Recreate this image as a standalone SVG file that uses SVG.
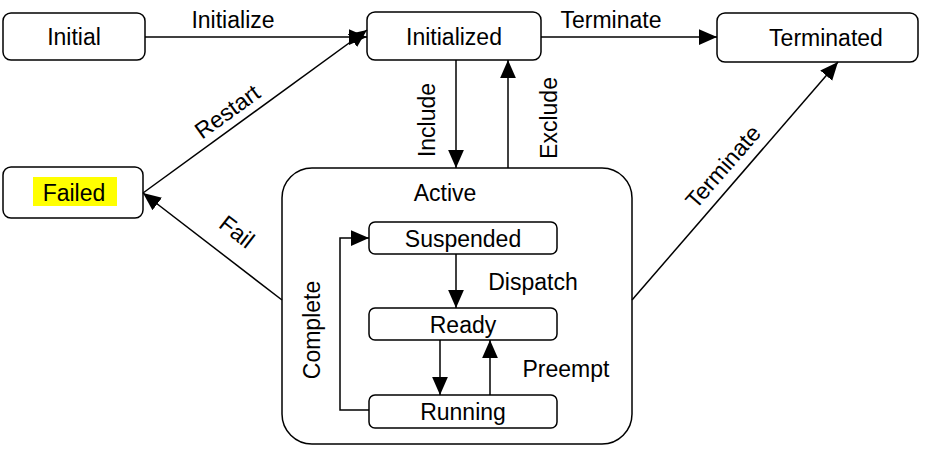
<svg xmlns="http://www.w3.org/2000/svg" width="933" height="452" viewBox="0 0 933 452">
<style>
.n{fill:#fff;stroke:#000;stroke-width:1.5}
text{font-family:"Liberation Sans",Arial,sans-serif;font-size:23px;fill:#000}
.c{text-anchor:middle}
.e{fill:none;stroke:#000;stroke-width:1.5}
</style>
<defs>
<marker id="a" viewBox="0 0 16 14" refX="16" refY="7" markerWidth="18" markerHeight="16" markerUnits="userSpaceOnUse" orient="auto">
<path d="M0,0L16,7L0,14z" fill="#000"/>
</marker>
</defs>
<rect width="933" height="452" fill="#fff"/>
<g id="Initial"><rect class="n" x="3" y="13" width="142" height="47" rx="8"/><text class="c" x="74" y="45">Initial</text></g>
<g id="Initialized"><rect class="n" x="367" y="12" width="174" height="48" rx="8"/><text class="c" x="454" y="45">Initialized</text></g>
<g id="Terminated"><rect class="n" x="717" y="13" width="201" height="49" rx="8"/><text class="c" x="826" y="46">Terminated</text></g>
<g id="Failed"><rect class="n" x="3" y="167" width="140" height="51" rx="8"/><rect x="33" y="177" width="84" height="29" fill="#ffff00"/><text class="c" x="74" y="201">Failed</text></g>
<g id="Active"><rect class="n" x="282" y="168" width="350" height="276" rx="30"/><text class="c" x="445" y="201">Active</text></g>
<g id="Suspended"><rect class="n" x="369" y="222" width="188" height="32" rx="6"/><text class="c" x="463" y="247">Suspended</text></g>
<g id="Ready"><rect class="n" x="369" y="308" width="188" height="32" rx="6"/><text class="c" x="463" y="333">Ready</text></g>
<g id="Running"><rect class="n" x="369" y="395" width="188" height="33" rx="6"/><text class="c" x="463" y="420">Running</text></g>
<g id="connectors">
<line class="e" x1="145" y1="37" x2="367" y2="37" marker-end="url(#a)"/>
<text class="c" x="233" y="28">Initialize</text>
<line class="e" x1="541" y1="37" x2="717" y2="37" marker-end="url(#a)"/>
<text class="c" x="611" y="28">Terminate</text>
<line class="e" x1="143" y1="193" x2="367" y2="30" marker-end="url(#a)"/>
<text class="c" transform="translate(232,118) rotate(-36)">Restart</text>
<line class="e" x1="282" y1="300" x2="143" y2="193" marker-end="url(#a)"/>
<text class="c" transform="translate(232,238) rotate(38)">Fail</text>
<line class="e" x1="632" y1="300" x2="838" y2="62" marker-end="url(#a)"/>
<text class="c" transform="translate(729,172) rotate(-49)">Terminate</text>
<line class="e" x1="456" y1="60" x2="456" y2="168" marker-end="url(#a)"/>
<text class="c" transform="translate(435,120) rotate(-90)">Include</text>
<line class="e" x1="508" y1="168" x2="508" y2="60" marker-end="url(#a)"/>
<text class="c" transform="translate(557,118) rotate(-90)">Exclude</text>
<line class="e" x1="456" y1="254" x2="456" y2="308" marker-end="url(#a)"/>
<text class="c" x="533" y="290">Dispatch</text>
<line class="e" x1="440" y1="340" x2="440" y2="395" marker-end="url(#a)"/>
<line class="e" x1="490" y1="395" x2="490" y2="340" marker-end="url(#a)"/>
<text class="c" x="566" y="377">Preempt</text>
<polyline class="e" points="369,410 340,410 340,238 369,238" marker-end="url(#a)"/>
<text class="c" transform="translate(320,330) rotate(-90)">Complete</text>
</g>
</svg>
